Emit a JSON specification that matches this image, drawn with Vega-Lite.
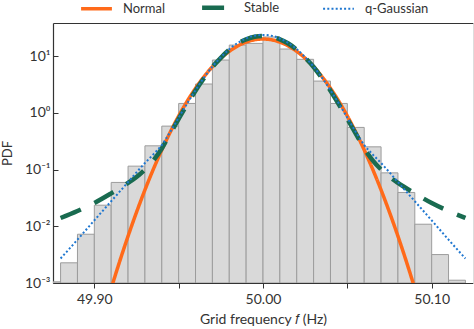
{
  "$schema": "https://vega.github.io/schema/vega-lite/v6.json",
  "autosize": {"type": "none"},
  "width": 420,
  "height": 260,
  "padding": {"left": 53, "top": 23, "right": 1, "bottom": 46},
  "config": {
    "font": "Lato",
    "view": {"stroke": null},
    "axis": {"grid": false, "labelColor": "#333", "titleColor": "#333", "domainColor": "#333", "tickColor": "#333", "labelFontSize": 14, "titleFontWeight": "normal"},
    "legend": {"padding": 0}
  },
  "datasets": {
    "bars": [
      {"f0": 49.87, "f1": 49.88, "pdf": 0.00105},
      {"f0": 49.88, "f1": 49.89, "pdf": 0.00227},
      {"f0": 49.89, "f1": 49.90, "pdf": 0.00723},
      {"f0": 49.90, "f1": 49.91, "pdf": 0.0235},
      {"f0": 49.91, "f1": 49.92, "pdf": 0.0592},
      {"f0": 49.92, "f1": 49.93, "pdf": 0.1146},
      {"f0": 49.93, "f1": 49.94, "pdf": 0.2616},
      {"f0": 49.94, "f1": 49.95, "pdf": 0.582},
      {"f0": 49.95, "f1": 49.96, "pdf": 1.46},
      {"f0": 49.96, "f1": 49.97, "pdf": 3.21},
      {"f0": 49.97, "f1": 49.98, "pdf": 8.5},
      {"f0": 49.98, "f1": 49.99, "pdf": 15.6},
      {"f0": 49.99, "f1": 50.00, "pdf": 16.7},
      {"f0": 50.00, "f1": 50.01, "pdf": 21.7},
      {"f0": 50.01, "f1": 50.02, "pdf": 13.3},
      {"f0": 50.02, "f1": 50.03, "pdf": 8.75},
      {"f0": 50.03, "f1": 50.04, "pdf": 3.62},
      {"f0": 50.04, "f1": 50.05, "pdf": 1.46},
      {"f0": 50.05, "f1": 50.06, "pdf": 0.552},
      {"f0": 50.06, "f1": 50.07, "pdf": 0.251},
      {"f0": 50.07, "f1": 50.08, "pdf": 0.0873},
      {"f0": 50.08, "f1": 50.09, "pdf": 0.0394},
      {"f0": 50.09, "f1": 50.10, "pdf": 0.01086},
      {"f0": 50.10, "f1": 50.11, "pdf": 0.00317},
      {"f0": 50.11, "f1": 50.12, "pdf": 0.00112}
    ],
    "curves": [
      {"dist": "Normal", "f": 49.905, "pdf": 0.000251},
      {"dist": "Normal", "f": 49.91, "pdf": 0.000799},
      {"dist": "Normal", "f": 49.915, "pdf": 0.002386},
      {"dist": "Normal", "f": 49.92, "pdf": 0.006692},
      {"dist": "Normal", "f": 49.925, "pdf": 0.01763},
      {"dist": "Normal", "f": 49.93, "pdf": 0.04363},
      {"dist": "Normal", "f": 49.935, "pdf": 0.1015},
      {"dist": "Normal", "f": 49.94, "pdf": 0.2216},
      {"dist": "Normal", "f": 49.945, "pdf": 0.4548},
      {"dist": "Normal", "f": 49.95, "pdf": 0.8765},
      {"dist": "Normal", "f": 49.955, "pdf": 1.587},
      {"dist": "Normal", "f": 49.96, "pdf": 2.70},
      {"dist": "Normal", "f": 49.965, "pdf": 4.315},
      {"dist": "Normal", "f": 49.97, "pdf": 6.48},
      {"dist": "Normal", "f": 49.975, "pdf": 9.13},
      {"dist": "Normal", "f": 49.98, "pdf": 12.10},
      {"dist": "Normal", "f": 49.985, "pdf": 15.06},
      {"dist": "Normal", "f": 49.99, "pdf": 17.60},
      {"dist": "Normal", "f": 49.995, "pdf": 19.33},
      {"dist": "Normal", "f": 50.0, "pdf": 19.95},
      {"dist": "Normal", "f": 50.005, "pdf": 19.33},
      {"dist": "Normal", "f": 50.01, "pdf": 17.60},
      {"dist": "Normal", "f": 50.015, "pdf": 15.06},
      {"dist": "Normal", "f": 50.02, "pdf": 12.10},
      {"dist": "Normal", "f": 50.025, "pdf": 9.13},
      {"dist": "Normal", "f": 50.03, "pdf": 6.48},
      {"dist": "Normal", "f": 50.035, "pdf": 4.315},
      {"dist": "Normal", "f": 50.04, "pdf": 2.70},
      {"dist": "Normal", "f": 50.045, "pdf": 1.587},
      {"dist": "Normal", "f": 50.05, "pdf": 0.8765},
      {"dist": "Normal", "f": 50.055, "pdf": 0.4548},
      {"dist": "Normal", "f": 50.06, "pdf": 0.2216},
      {"dist": "Normal", "f": 50.065, "pdf": 0.1015},
      {"dist": "Normal", "f": 50.07, "pdf": 0.04363},
      {"dist": "Normal", "f": 50.075, "pdf": 0.01763},
      {"dist": "Normal", "f": 50.08, "pdf": 0.006692},
      {"dist": "Normal", "f": 50.085, "pdf": 0.002386},
      {"dist": "Normal", "f": 50.09, "pdf": 0.000799},
      {"dist": "Normal", "f": 50.095, "pdf": 0.000251},

      {"dist": "Stable", "f": 49.88, "pdf": 0.0140},
      {"dist": "Stable", "f": 49.89, "pdf": 0.0186},
      {"dist": "Stable", "f": 49.90, "pdf": 0.0257},
      {"dist": "Stable", "f": 49.91, "pdf": 0.038},
      {"dist": "Stable", "f": 49.92, "pdf": 0.058},
      {"dist": "Stable", "f": 49.925, "pdf": 0.074},
      {"dist": "Stable", "f": 49.93, "pdf": 0.100},
      {"dist": "Stable", "f": 49.935, "pdf": 0.145},
      {"dist": "Stable", "f": 49.94, "pdf": 0.235},
      {"dist": "Stable", "f": 49.945, "pdf": 0.43},
      {"dist": "Stable", "f": 49.95, "pdf": 0.78},
      {"dist": "Stable", "f": 49.955, "pdf": 1.40},
      {"dist": "Stable", "f": 49.96, "pdf": 2.45},
      {"dist": "Stable", "f": 49.965, "pdf": 4.05},
      {"dist": "Stable", "f": 49.97, "pdf": 6.4},
      {"dist": "Stable", "f": 49.975, "pdf": 9.3},
      {"dist": "Stable", "f": 49.98, "pdf": 12.9},
      {"dist": "Stable", "f": 49.985, "pdf": 16.6},
      {"dist": "Stable", "f": 49.99, "pdf": 19.6},
      {"dist": "Stable", "f": 49.995, "pdf": 21.8},
      {"dist": "Stable", "f": 50.0, "pdf": 22.5},
      {"dist": "Stable", "f": 50.005, "pdf": 21.8},
      {"dist": "Stable", "f": 50.01, "pdf": 19.6},
      {"dist": "Stable", "f": 50.015, "pdf": 16.6},
      {"dist": "Stable", "f": 50.02, "pdf": 12.9},
      {"dist": "Stable", "f": 50.025, "pdf": 9.3},
      {"dist": "Stable", "f": 50.03, "pdf": 6.4},
      {"dist": "Stable", "f": 50.035, "pdf": 4.05},
      {"dist": "Stable", "f": 50.04, "pdf": 2.45},
      {"dist": "Stable", "f": 50.045, "pdf": 1.40},
      {"dist": "Stable", "f": 50.05, "pdf": 0.78},
      {"dist": "Stable", "f": 50.055, "pdf": 0.43},
      {"dist": "Stable", "f": 50.06, "pdf": 0.235},
      {"dist": "Stable", "f": 50.065, "pdf": 0.145},
      {"dist": "Stable", "f": 50.07, "pdf": 0.100},
      {"dist": "Stable", "f": 50.075, "pdf": 0.074},
      {"dist": "Stable", "f": 50.08, "pdf": 0.058},
      {"dist": "Stable", "f": 50.09, "pdf": 0.038},
      {"dist": "Stable", "f": 50.10, "pdf": 0.0257},
      {"dist": "Stable", "f": 50.11, "pdf": 0.0186},
      {"dist": "Stable", "f": 50.12, "pdf": 0.0140},

      {"dist": "q-Gaussian", "f": 49.88, "pdf": 0.0027},
      {"dist": "q-Gaussian", "f": 49.89, "pdf": 0.0058},
      {"dist": "q-Gaussian", "f": 49.90, "pdf": 0.0127},
      {"dist": "q-Gaussian", "f": 49.91, "pdf": 0.0276},
      {"dist": "q-Gaussian", "f": 49.92, "pdf": 0.060},
      {"dist": "q-Gaussian", "f": 49.925, "pdf": 0.089},
      {"dist": "q-Gaussian", "f": 49.93, "pdf": 0.13},
      {"dist": "q-Gaussian", "f": 49.935, "pdf": 0.185},
      {"dist": "q-Gaussian", "f": 49.94, "pdf": 0.27},
      {"dist": "q-Gaussian", "f": 49.945, "pdf": 0.46},
      {"dist": "q-Gaussian", "f": 49.95, "pdf": 0.82},
      {"dist": "q-Gaussian", "f": 49.955, "pdf": 1.45},
      {"dist": "q-Gaussian", "f": 49.96, "pdf": 2.5},
      {"dist": "q-Gaussian", "f": 49.965, "pdf": 4.15},
      {"dist": "q-Gaussian", "f": 49.97, "pdf": 6.5},
      {"dist": "q-Gaussian", "f": 49.975, "pdf": 9.5},
      {"dist": "q-Gaussian", "f": 49.98, "pdf": 13.2},
      {"dist": "q-Gaussian", "f": 49.985, "pdf": 17.0},
      {"dist": "q-Gaussian", "f": 49.99, "pdf": 20.4},
      {"dist": "q-Gaussian", "f": 49.995, "pdf": 22.8},
      {"dist": "q-Gaussian", "f": 50.0, "pdf": 23.5},
      {"dist": "q-Gaussian", "f": 50.005, "pdf": 22.8},
      {"dist": "q-Gaussian", "f": 50.01, "pdf": 20.4},
      {"dist": "q-Gaussian", "f": 50.015, "pdf": 17.0},
      {"dist": "q-Gaussian", "f": 50.02, "pdf": 13.2},
      {"dist": "q-Gaussian", "f": 50.025, "pdf": 9.5},
      {"dist": "q-Gaussian", "f": 50.03, "pdf": 6.5},
      {"dist": "q-Gaussian", "f": 50.035, "pdf": 4.15},
      {"dist": "q-Gaussian", "f": 50.04, "pdf": 2.5},
      {"dist": "q-Gaussian", "f": 50.045, "pdf": 1.45},
      {"dist": "q-Gaussian", "f": 50.05, "pdf": 0.82},
      {"dist": "q-Gaussian", "f": 50.055, "pdf": 0.46},
      {"dist": "q-Gaussian", "f": 50.06, "pdf": 0.27},
      {"dist": "q-Gaussian", "f": 50.065, "pdf": 0.185},
      {"dist": "q-Gaussian", "f": 50.07, "pdf": 0.13},
      {"dist": "q-Gaussian", "f": 50.075, "pdf": 0.089},
      {"dist": "q-Gaussian", "f": 50.08, "pdf": 0.060},
      {"dist": "q-Gaussian", "f": 50.09, "pdf": 0.0276},
      {"dist": "q-Gaussian", "f": 50.10, "pdf": 0.0127},
      {"dist": "q-Gaussian", "f": 50.11, "pdf": 0.0058},
      {"dist": "q-Gaussian", "f": 50.12, "pdf": 0.0027}
    ]
  },
  "layer": [
    {
      "data": {"name": "bars"},
      "mark": {"type": "bar", "fill": "#d9d9d9", "stroke": "#9c9c9c", "strokeWidth": 1, "clip": true},
      "encoding": {
        "x": {"field": "f0", "type": "quantitative",
              "scale": {"domain": [49.8755, 50.1245], "nice": false, "zero": false},
              "axis": {"values": [49.9, 49.95, 50.0, 50.05, 50.1], "labelExpr": "(round(datum.value*100) % 10 == 0) ? format(datum.value, '.2f') : ''",
                       "tickSize": 5, "labelPadding": 4, "domainWidth": 1.2, "title": "Grid frequency 𝑓 (Hz)", "titleFontSize": 14, "titlePadding": 6}},
        "x2": {"field": "f1"},
        "y": {"field": "pdf", "type": "quantitative",
              "scale": {"type": "log", "domain": [0.001, 38.2], "nice": false},
              "axis": {"values": [0.001, 0.01, 0.1, 1, 10],
                       "labelExpr": "datum.value >= 5 ? '10¹' : datum.value >= 0.5 ? '10⁰' : datum.value >= 0.05 ? '10⁻¹' : datum.value >= 0.005 ? '10⁻²' : '10⁻³'",
                       "tickSize": -5, "labelPadding": 8, "domainWidth": 1.2, "title": "PDF", "titleFontSize": 13, "titlePadding": 10}},
        "y2": {"datum": 0.001}
      }
    },
    {
      "data": {"name": "curves"},
      "mark": {"type": "line", "clip": true, "interpolate": "monotone"},
      "encoding": {
        "x": {"field": "f", "type": "quantitative",
              "axis": {"orient": "top", "labels": false, "ticks": false, "title": null, "domainWidth": 1.2}},
        "y": {"field": "pdf", "type": "quantitative",
              "axis": {"orient": "right", "labels": false, "ticks": false, "title": null, "domainColor": "#dddddd"}},
        "color": {"field": "dist", "type": "nominal",
                  "scale": {"domain": ["Normal", "Stable", "q-Gaussian"], "range": ["#ff6a1a", "#196b50", "#1f77d0"]},
                  "legend": {"title": null, "orient": "none", "direction": "horizontal", "legendX": 37, "legendY": -22,
                             "columns": 3, "columnPadding": 6, "gridAlign": "all", "symbolType": "stroke", "symbolSize": 950,
                             "labelFontSize": 13, "labelColor": "#333", "labelOffset": 20,
                             "encode": {"symbols": {"update": {"strokeWidth": {"signal": "datum.value == 'Stable' ? 4.5 : datum.value == 'q-Gaussian' ? 2 : 3.5"}}}}}},
        "strokeDash": {"field": "dist", "type": "nominal",
                       "scale": {"domain": ["Normal", "Stable", "q-Gaussian"], "range": [[1, 0], [22, 15], [2, 2.2]]},
                       "legend": {"title": null, "orient": "none", "direction": "horizontal", "legendX": 37, "legendY": -22,
                             "columns": 3, "columnPadding": 6, "gridAlign": "all", "symbolType": "stroke", "symbolSize": 950,
                             "labelFontSize": 13, "labelColor": "#333", "labelOffset": 20,
                             "encode": {"symbols": {"update": {"strokeWidth": {"signal": "datum.value == 'Stable' ? 4.5 : datum.value == 'q-Gaussian' ? 2 : 3.5"}}}}}},
        "strokeWidth": {"condition": [{"test": "datum.dist == 'Stable'", "value": 4.5}, {"test": "datum.dist == 'q-Gaussian'", "value": 2}], "value": 3.5}
      }
    }
  ],
  "resolve": {"axis": {"x": "independent", "y": "independent"}}
}
